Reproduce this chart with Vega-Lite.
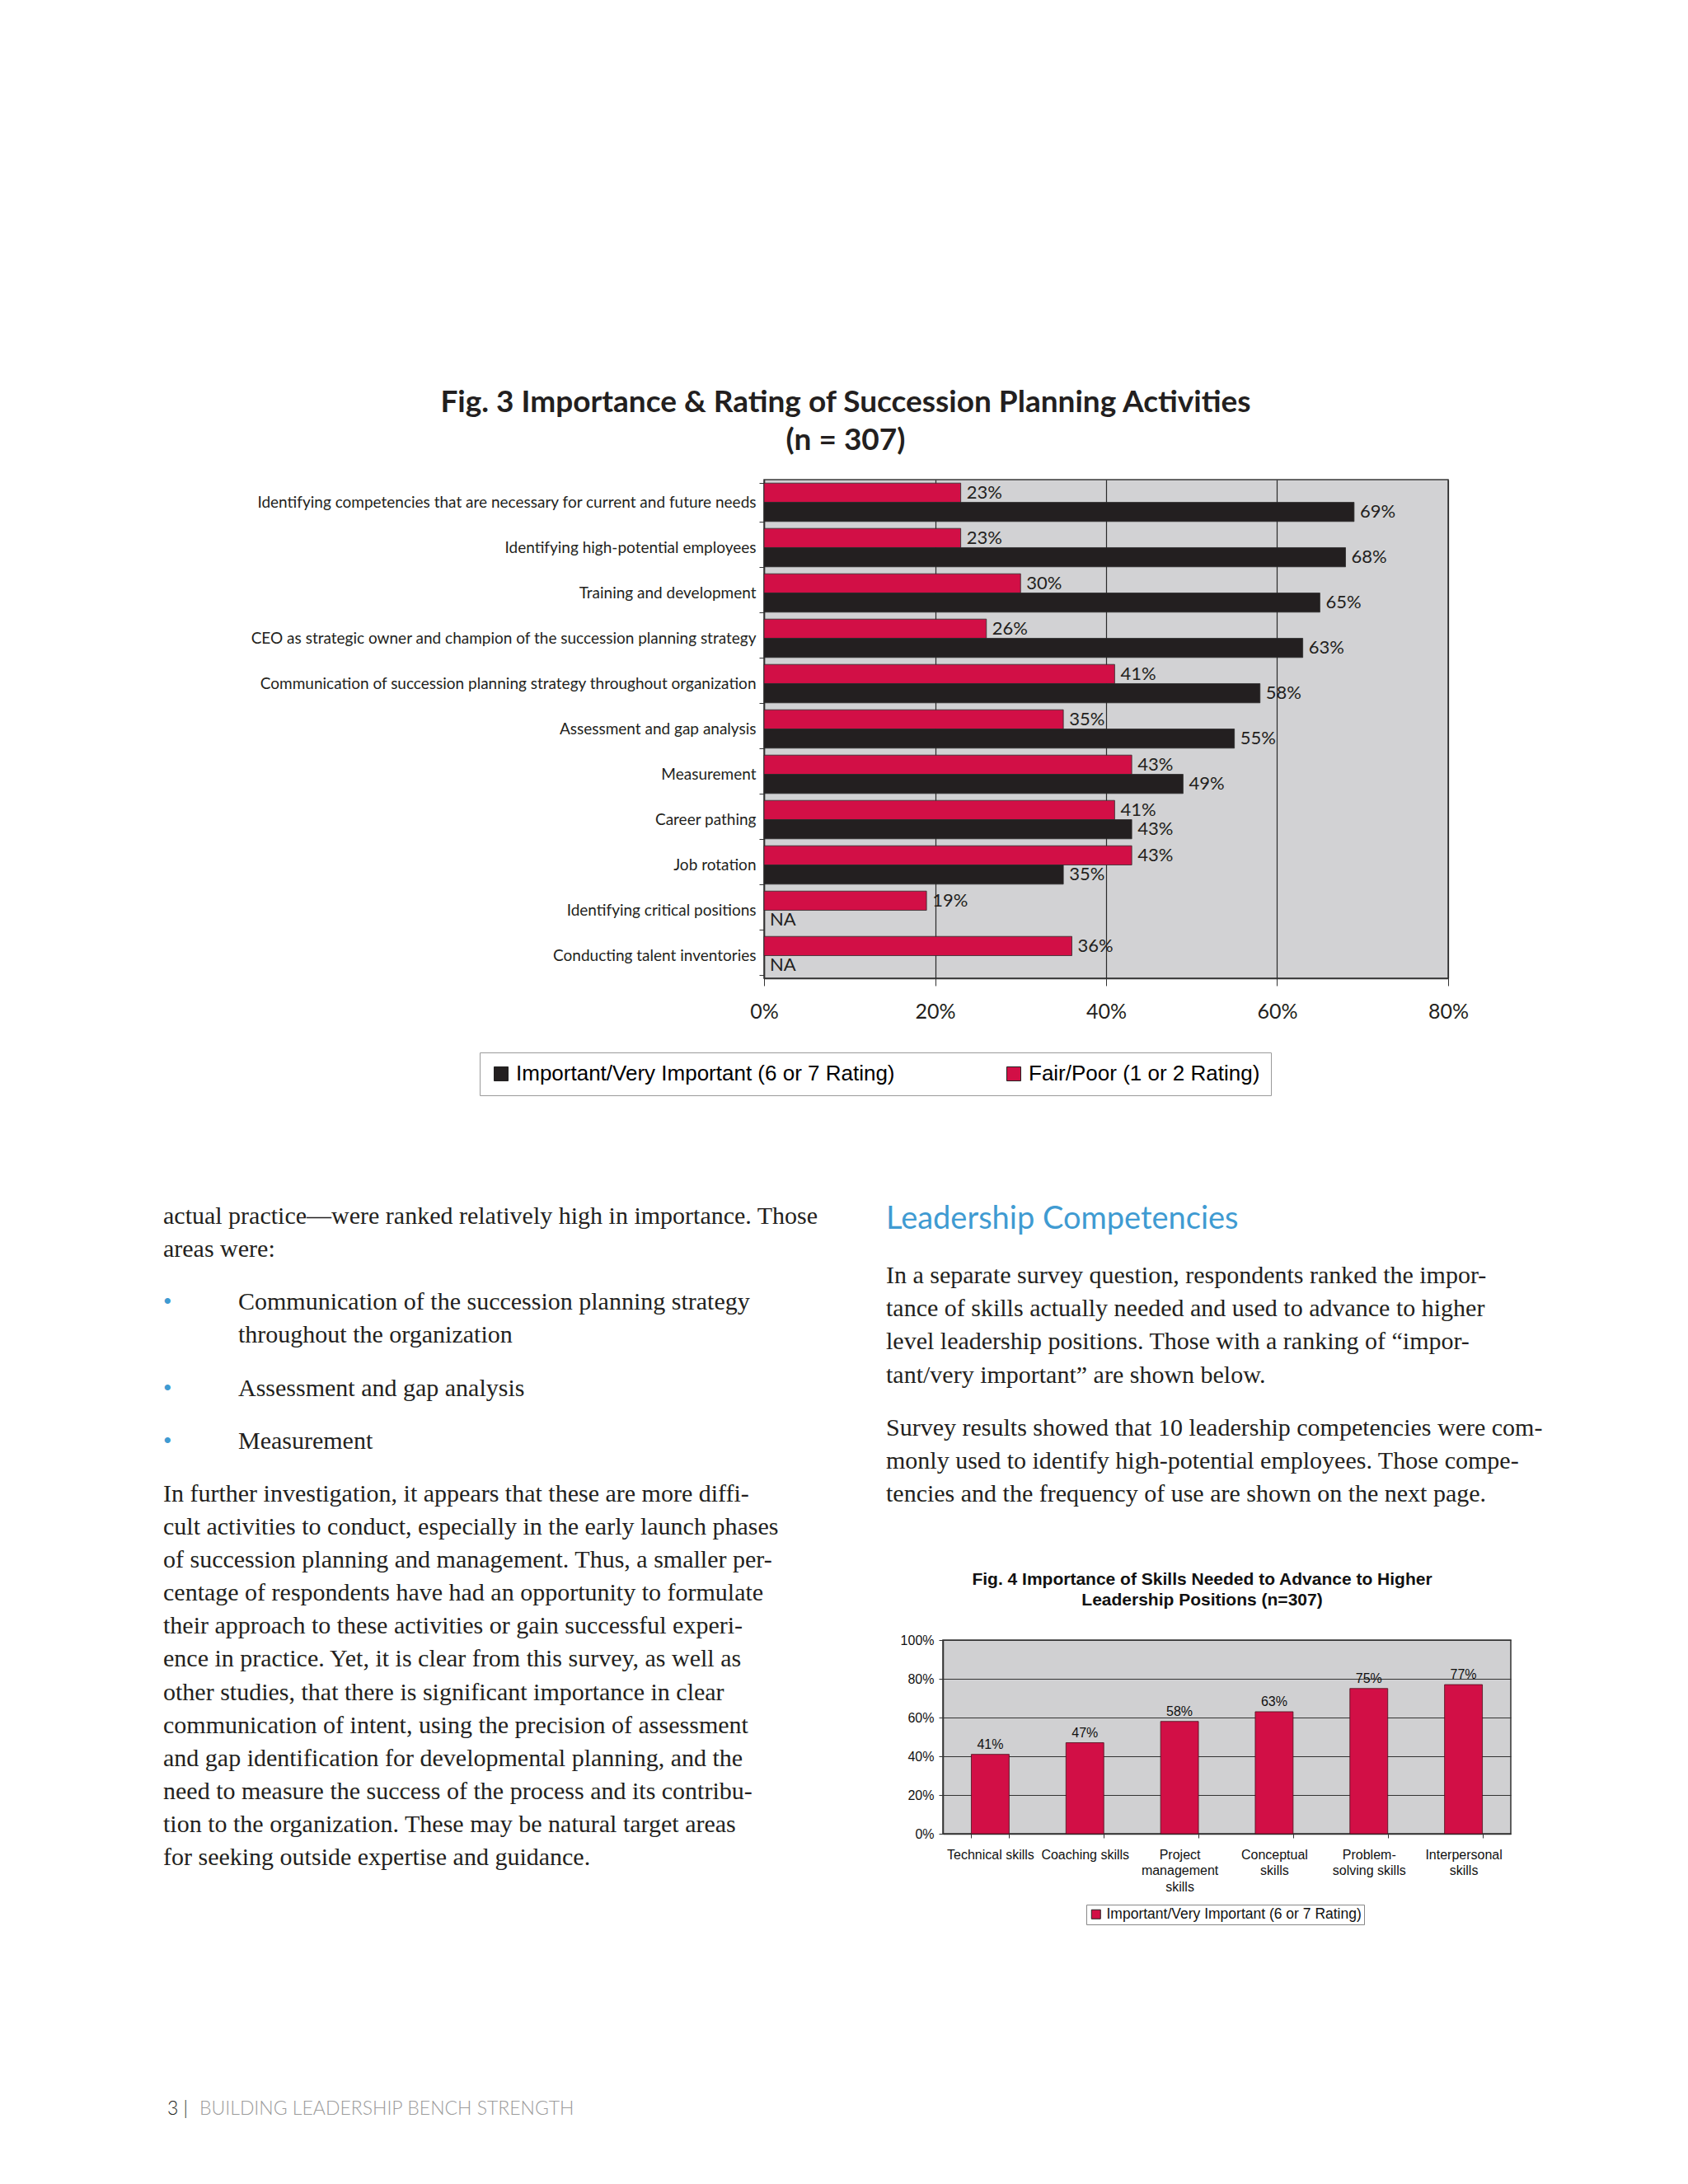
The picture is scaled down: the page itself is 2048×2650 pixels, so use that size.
{
  "$schema": "https://vega.github.io/schema/vega-lite/v6.json",
  "background": "white",
  "padding": {"left": 198, "top": 469, "right": 60, "bottom": 40},
  "bounds": "flush",
  "spacing": 289,
  "resolve": {"scale": {"color": "independent"}, "legend": {"color": "independent"}},
  "config": {"view": {"stroke": null}, "font": "Lato"},
  "vconcat": [
    {
      "width": 830,
      "height": 605,
      "view": {"fill": "#d2d2d4", "stroke": "#3a3a3a", "strokeWidth": 1.5},
      "title": {
        "text": ["Fig. 3 Importance & Rating of Succession Planning Activities", "(n = 307)"],
        "font": "Lato",
        "fontSize": 37,
        "fontWeight": "bold",
        "lineHeight": 46,
        "frame": "group",
        "anchor": "middle",
        "dx": -316,
        "offset": 19,
        "color": "#231f20"
      },
      "data": {
        "values": [
          {"activity": "Identifying competencies that are necessary for current and future needs", "rating": "Fair/Poor (1 or 2 Rating)", "pct": 0.23},
          {"activity": "Identifying competencies that are necessary for current and future needs", "rating": "Important/Very Important (6 or 7 Rating)", "pct": 0.69},
          {"activity": "Identifying high-potential employees", "rating": "Fair/Poor (1 or 2 Rating)", "pct": 0.23},
          {"activity": "Identifying high-potential employees", "rating": "Important/Very Important (6 or 7 Rating)", "pct": 0.68},
          {"activity": "Training and development", "rating": "Fair/Poor (1 or 2 Rating)", "pct": 0.30},
          {"activity": "Training and development", "rating": "Important/Very Important (6 or 7 Rating)", "pct": 0.65},
          {"activity": "CEO as strategic owner and champion of the succession planning strategy", "rating": "Fair/Poor (1 or 2 Rating)", "pct": 0.26},
          {"activity": "CEO as strategic owner and champion of the succession planning strategy", "rating": "Important/Very Important (6 or 7 Rating)", "pct": 0.63},
          {"activity": "Communication of succession planning strategy throughout organization", "rating": "Fair/Poor (1 or 2 Rating)", "pct": 0.41},
          {"activity": "Communication of succession planning strategy throughout organization", "rating": "Important/Very Important (6 or 7 Rating)", "pct": 0.58},
          {"activity": "Assessment and gap analysis", "rating": "Fair/Poor (1 or 2 Rating)", "pct": 0.35},
          {"activity": "Assessment and gap analysis", "rating": "Important/Very Important (6 or 7 Rating)", "pct": 0.55},
          {"activity": "Measurement", "rating": "Fair/Poor (1 or 2 Rating)", "pct": 0.43},
          {"activity": "Measurement", "rating": "Important/Very Important (6 or 7 Rating)", "pct": 0.49},
          {"activity": "Career pathing", "rating": "Fair/Poor (1 or 2 Rating)", "pct": 0.41},
          {"activity": "Career pathing", "rating": "Important/Very Important (6 or 7 Rating)", "pct": 0.43},
          {"activity": "Job rotation", "rating": "Fair/Poor (1 or 2 Rating)", "pct": 0.43},
          {"activity": "Job rotation", "rating": "Important/Very Important (6 or 7 Rating)", "pct": 0.35},
          {"activity": "Identifying critical positions", "rating": "Fair/Poor (1 or 2 Rating)", "pct": 0.19},
          {"activity": "Identifying critical positions", "rating": "Important/Very Important (6 or 7 Rating)", "pct": null},
          {"activity": "Conducting talent inventories", "rating": "Fair/Poor (1 or 2 Rating)", "pct": 0.36},
          {"activity": "Conducting talent inventories", "rating": "Important/Very Important (6 or 7 Rating)", "pct": null}
        ]
      },
      "encoding": {
        "y": {
          "field": "activity",
          "type": "nominal",
          "sort": null,
          "title": null,
          "scale": {"paddingInner": 0.153, "paddingOuter": 0.076},
          "axis": {
            "labelFont": "Lato",
            "labelFontSize": 19,
            "labelColor": "#231f20",
            "labelLimit": 800,
            "labelPadding": 4,
            "tickBand": "extent",
            "tickSize": 6,
            "tickColor": "#333333",
            "domainColor": "#333333",
            "domainWidth": 1.5
          }
        },
        "yOffset": {
          "field": "rating",
          "type": "nominal",
          "sort": ["Fair/Poor (1 or 2 Rating)", "Important/Very Important (6 or 7 Rating)"],
          "scale": {"paddingInner": 0, "paddingOuter": 0}
        }
      },
      "layer": [
        {
          "mark": {"type": "bar", "stroke": "#2b2b2b", "strokeWidth": 0.8},
          "encoding": {
            "x": {
              "field": "pct",
              "type": "quantitative",
              "title": null,
              "scale": {"domain": [0, 0.8], "nice": false},
              "axis": {
                "values": [0, 0.2, 0.4, 0.6, 0.8],
                "format": ".0%",
                "grid": true,
                "gridColor": "#2b2b2b",
                "gridWidth": 1.2,
                "tickSize": 9,
                "tickColor": "#333333",
                "domainColor": "#333333",
                "domainWidth": 1.5,
                "labelFont": "Lato",
                "labelFontSize": 25,
                "labelColor": "#231f20",
                "labelPadding": 19,
                "labelFlush": false
              }
            },
            "color": {
              "field": "rating",
              "type": "nominal",
              "scale": {
                "domain": ["Important/Very Important (6 or 7 Rating)", "Fair/Poor (1 or 2 Rating)"],
                "range": ["#231f20", "#d20f46"]
              },
              "legend": {
                "orient": "none",
                "legendX": -345,
                "legendY": 695,
                "direction": "horizontal",
                "title": null,
                "labelFont": "Liberation Sans",
                "labelFontSize": 26,
                "labelColor": "#000000",
                "labelLimit": 700,
                "labelOffset": 5,
                "symbolType": "square",
                "symbolSize": 289,
                "symbolStrokeColor": "#222222",
                "symbolStrokeWidth": 1,
                "columnPadding": 131,
                "padding": 13,
                "strokeColor": "#9a9a9a",
                "fillColor": "white"
              }
            }
          }
        },
        {
          "transform": [{"filter": "datum.pct != null"}],
          "mark": {"type": "text", "align": "left", "baseline": "middle", "dx": 7, "font": "Lato", "fontSize": 22, "color": "#231f20"},
          "encoding": {
            "x": {"field": "pct", "type": "quantitative"},
            "text": {"field": "pct", "type": "quantitative", "format": ".0%"}
          }
        },
        {
          "transform": [{"filter": "datum.pct == null"}],
          "mark": {"type": "text", "align": "left", "baseline": "middle", "dx": 7, "font": "Lato", "fontSize": 22, "color": "#231f20"},
          "encoding": {
            "x": {"datum": 0},
            "text": {"value": "NA"}
          }
        }
      ]
    },
    {
      "bounds": "flush",
      "spacing": 20,
      "resolve": {"scale": {"color": "independent"}, "legend": {"color": "independent"}},
      "hconcat": [
        {
          "width": 197,
          "height": 1083,
          "data": {
            "values": [
              {"col": "left", "line": 0, "role": "body", "text": "actual practice—were ranked relatively high in importance. Those"},
              {"col": "left", "line": 1, "role": "body", "text": "areas were:"},
              {"col": "left", "line": 2.6, "role": "item", "bullet": true, "text": "Communication of the succession planning strategy"},
              {"col": "left", "line": 3.6, "role": "item", "text": "throughout the organization"},
              {"col": "left", "line": 5.2, "role": "item", "bullet": true, "text": "Assessment and gap analysis"},
              {"col": "left", "line": 6.8, "role": "item", "bullet": true, "text": "Measurement"},
              {"col": "left", "line": 8.4, "role": "body", "text": "In further investigation, it appears that these are more diffi-"},
              {"col": "left", "line": 9.4, "role": "body", "text": "cult activities to conduct, especially in the early launch phases"},
              {"col": "left", "line": 10.4, "role": "body", "text": "of succession planning and management. Thus, a smaller per-"},
              {"col": "left", "line": 11.4, "role": "body", "text": "centage of respondents have had an opportunity to formulate"},
              {"col": "left", "line": 12.4, "role": "body", "text": "their approach to these activities or gain successful experi-"},
              {"col": "left", "line": 13.4, "role": "body", "text": "ence in practice. Yet, it is clear from this survey, as well as"},
              {"col": "left", "line": 14.4, "role": "body", "text": "other studies, that there is significant importance in clear"},
              {"col": "left", "line": 15.4, "role": "body", "text": "communication of intent, using the precision of assessment"},
              {"col": "left", "line": 16.4, "role": "body", "text": "and gap identification for developmental planning, and the"},
              {"col": "left", "line": 17.4, "role": "body", "text": "need to measure the success of the process and its contribu-"},
              {"col": "left", "line": 18.4, "role": "body", "text": "tion to the organization. These may be natural target areas"},
              {"col": "left", "line": 19.4, "role": "body", "text": "for seeking outside expertise and guidance."},
              {"col": "right", "line": 0.1, "role": "heading", "text": "Leadership Competencies"},
              {"col": "right", "line": 1.8, "role": "body", "text": "In a separate survey question, respondents ranked the impor-"},
              {"col": "right", "line": 2.8, "role": "body", "text": "tance of skills actually needed and used to advance to higher"},
              {"col": "right", "line": 3.8, "role": "body", "text": "level leadership positions. Those with a ranking of “impor-"},
              {"col": "right", "line": 4.8, "role": "body", "text": "tant/very important” are shown below."},
              {"col": "right", "line": 6.4, "role": "body", "text": "Survey results showed that 10 leadership competencies were com-"},
              {"col": "right", "line": 7.4, "role": "body", "text": "monly used to identify high-potential employees. Those compe-"},
              {"col": "right", "line": 8.4, "role": "body", "text": "tencies and the frequency of use are shown on the next page."},
              {"col": "left", "line": 27, "role": "folio", "text": "3  |"},
              {"col": "left", "line": 27, "role": "footer", "text": "BUILDING LEADERSHIP BENCH STRENGTH"}
            ]
          },
          "encoding": {
            "x": {
              "field": "col",
              "type": "nominal",
              "axis": null,
              "scale": {"type": "point", "domain": ["left", "right"], "range": [-729, 148], "padding": 0}
            },
            "y": {
              "field": "line",
              "type": "quantitative",
              "axis": null,
              "scale": {"domain": [0, 27], "reverse": true, "nice": false, "zero": false}
            }
          },
          "layer": [
            {
              "transform": [{"filter": "datum.role == 'body'"}],
              "mark": {"type": "text", "align": "left", "baseline": "middle", "font": "Liberation Serif", "fontSize": 30, "color": "#231f20"},
              "encoding": {"text": {"field": "text"}}
            },
            {
              "transform": [{"filter": "datum.role == 'item'"}],
              "mark": {"type": "text", "align": "left", "baseline": "middle", "dx": 91, "font": "Liberation Serif", "fontSize": 30, "color": "#231f20"},
              "encoding": {"text": {"field": "text"}}
            },
            {
              "transform": [{"filter": "datum.bullet == true"}],
              "mark": {"type": "text", "align": "left", "baseline": "middle", "font": "Liberation Serif", "fontSize": 30, "color": "#3f9bd2", "text": "•"}
            },
            {
              "transform": [{"filter": "datum.role == 'heading'"}],
              "mark": {"type": "text", "align": "left", "baseline": "middle", "font": "Lato", "fontSize": 38, "color": "#3f9bd2"},
              "encoding": {"text": {"field": "text"}}
            },
            {
              "transform": [{"filter": "datum.role == 'folio'"}],
              "mark": {"type": "text", "align": "left", "baseline": "middle", "dx": 5, "font": "Lato", "fontWeight": 300, "fontSize": 23, "color": "#231f20"},
              "encoding": {"text": {"field": "text"}}
            },
            {
              "transform": [{"filter": "datum.role == 'footer'"}],
              "mark": {"type": "text", "align": "left", "baseline": "middle", "dx": 44, "font": "Lato", "fontWeight": 300, "fontSize": 23, "color": "#9b9b9b"},
              "encoding": {"text": {"field": "text"}}
            }
          ]
        },
        {
          "bounds": "flush",
          "spacing": 14,
          "resolve": {"scale": {"color": "independent"}, "legend": {"color": "independent"}},
          "vconcat": [
            {
              "width": 10,
              "height": 500,
              "data": {"values": []},
              "mark": "point"
            },
            {
              "width": 689,
              "height": 235,
              "view": {"fill": "#d0d0d2", "stroke": "#333333", "strokeWidth": 1.5},
              "title": {
                "text": ["Fig. 4 Importance of Skills Needed to Advance to Higher", "Leadership Positions (n=307)"],
                "font": "Liberation Sans",
                "fontSize": 21,
                "fontWeight": "bold",
                "lineHeight": 25,
                "frame": "group",
                "anchor": "middle",
                "dx": -30,
                "offset": 30,
                "color": "#111111"
              },
              "data": {
                "values": [
                  {"skill": "Technical skills", "rating": "Important/Very Important (6 or 7 Rating)", "pct": 0.41},
                  {"skill": "Coaching skills", "rating": "Important/Very Important (6 or 7 Rating)", "pct": 0.47},
                  {"skill": "Project management skills", "rating": "Important/Very Important (6 or 7 Rating)", "pct": 0.58},
                  {"skill": "Conceptual skills", "rating": "Important/Very Important (6 or 7 Rating)", "pct": 0.63},
                  {"skill": "Problem-solving skills", "rating": "Important/Very Important (6 or 7 Rating)", "pct": 0.75},
                  {"skill": "Interpersonal skills", "rating": "Important/Very Important (6 or 7 Rating)", "pct": 0.77}
                ]
              },
              "encoding": {
                "x": {
                  "field": "skill",
                  "type": "nominal",
                  "sort": null,
                  "title": null,
                  "scale": {"paddingInner": 0.6, "paddingOuter": 0.3},
                  "axis": {
                    "labelAngle": 0,
                    "labelOverlap": false,
                    "tickBand": "extent",
                    "tickSize": 5,
                    "tickColor": "#333333",
                    "domainColor": "#333333",
                    "domainWidth": 1.5,
                    "labelPadding": 12,
                    "labelFont": "Liberation Sans",
                    "labelFontSize": 16,
                    "labelLineHeight": 19.5,
                    "labelColor": "#111111",
                    "labelLimit": 200,
                    "labelExpr": "datum.value == 'Project management skills' ? ['Project', 'management', 'skills'] : datum.value == 'Conceptual skills' ? ['Conceptual', 'skills'] : datum.value == 'Problem-solving skills' ? ['Problem-', 'solving skills'] : datum.value == 'Interpersonal skills' ? ['Interpersonal', 'skills'] : datum.label"
                  }
                },
                "y": {
                  "field": "pct",
                  "type": "quantitative",
                  "title": null,
                  "scale": {"domain": [0, 1], "nice": false},
                  "axis": {
                    "values": [0, 0.2, 0.4, 0.6, 0.8, 1],
                    "format": ".0%",
                    "grid": true,
                    "gridColor": "#333333",
                    "gridWidth": 1.2,
                    "tickSize": 5,
                    "tickColor": "#333333",
                    "domainColor": "#333333",
                    "domainWidth": 1.5,
                    "labelPadding": 6,
                    "labelFont": "Liberation Sans",
                    "labelFontSize": 16,
                    "labelColor": "#111111",
                    "labelFlush": false
                  }
                }
              },
              "layer": [
                {
                  "mark": {"type": "bar", "stroke": "#4a0f1c", "strokeWidth": 0.8},
                  "encoding": {
                    "color": {
                      "field": "rating",
                      "type": "nominal",
                      "scale": {"domain": ["Important/Very Important (6 or 7 Rating)"], "range": ["#d20f46"]},
                      "legend": {
                        "orient": "none",
                        "legendX": 174,
                        "legendY": 321,
                        "title": null,
                        "labelFont": "Liberation Sans",
                        "labelFontSize": 17.5,
                        "labelColor": "#111111",
                        "labelLimit": 500,
                        "labelOffset": 4,
                        "symbolType": "square",
                        "symbolSize": 121,
                        "symbolStrokeColor": "#222222",
                        "symbolStrokeWidth": 1,
                        "padding": 3,
                        "strokeColor": "#888888",
                        "fillColor": "white"
                      }
                    }
                  }
                },
                {
                  "mark": {"type": "text", "baseline": "bottom", "dy": -4, "font": "Liberation Sans", "fontSize": 16, "color": "#111111"},
                  "encoding": {
                    "text": {"field": "pct", "type": "quantitative", "format": ".0%"}
                  }
                }
              ]
            }
          ]
        }
      ]
    }
  ]
}
